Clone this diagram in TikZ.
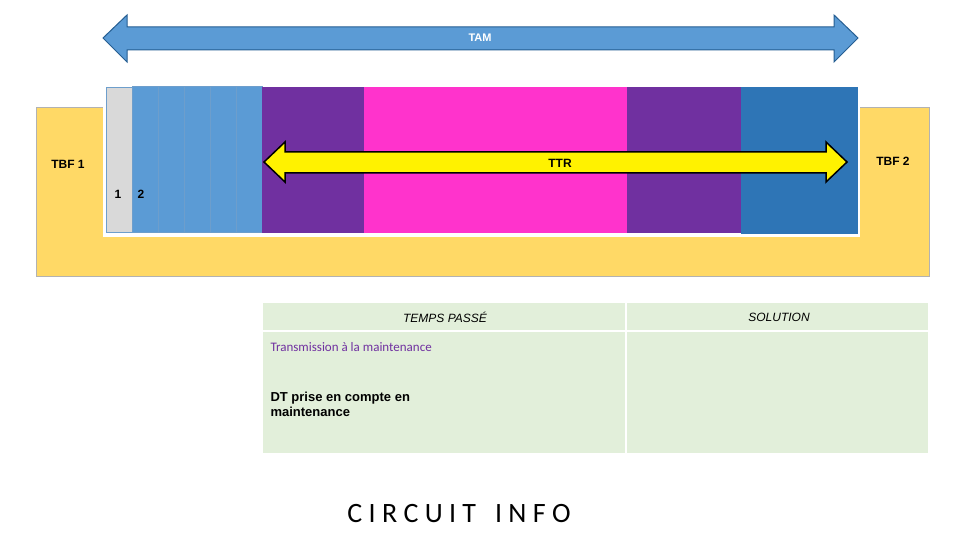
\documentclass[tikz,border=0pt]{standalone}
\usepackage{fontspec}
\setmainfont{Liberation Sans}
\newfontfamily\carlitofont{Carlito}
\begin{document}
\begin{tikzpicture}[x=1pt,y=-1pt,
  cell/.style={draw=white,line width=1.5pt},
  bold/.style={font=\bfseries\fontsize{12}{14}\selectfont}]
\definecolor{ybg}{HTML}{FFD966}
\definecolor{blu}{HTML}{5B9BD5}
\definecolor{dblu}{HTML}{2E75B6}
\definecolor{pur}{HTML}{7030A0}
\definecolor{pnk}{HTML}{FF33CC}
\definecolor{tgreen}{HTML}{E2EFDA}
\useasboundingbox (0,0) rectangle (960,540);
\fill[ybg,draw=gray!60,line width=1pt] (36,108) rectangle (929,276);
\fill[white] (103,86) rectangle (860,237);
\fill[gray!30,draw=dblu!70] (106,87) rectangle (132,232);
\foreach \a/\b in {132/158,158/184,184/210,210/236,236/262}
  \fill[blu,draw=dblu!70,line width=1pt] (\a,87) rectangle (\b,232);
\fill[pur] (262,87) rectangle (364,233);
\fill[pnk] (364,87) rectangle (627,233);
\fill[pur] (627,87) rectangle (741,233);
\fill[dblu] (741,87) rectangle (858,234);
% TAM arrow
\fill[blu,draw=dblu!80!black,line width=1pt] (103,38) -- (127,15) -- (127,27) -- (834,27) -- (834,15) -- (858,38) -- (834,62) -- (834,50) -- (127,50) -- (127,62) -- cycle;
\node[font=\bfseries\fontsize{11}{13}\selectfont,white] (tam) at (480,38) {TAM};
% TTR arrow
\fill[yellow,draw=black,line width=1.5pt] (264,162) -- (285,142) -- (285,152) -- (826,152) -- (826,142) -- (847,162) -- (826,182) -- (826,173) -- (285,173) -- (285,182) -- cycle;
\node[bold] (ttr) at (560,163) {TTR};
\node[bold] (tbf1) at (68,164) {TBF 1};
\node[bold] (tbf2) at (893,161) {TBF 2};
\node[bold] (n1) at (118,194) {1};
\node[bold] (n2) at (141,194) {2};
% table
\fill[tgreen] (263,303) rectangle (928,453);
\draw[white,line width=2pt] (263,331) -- (928,331) (626,303) -- (626,453);
\node[font=\itshape\fontsize{12}{14}\selectfont] (tp) at (445,317) {TEMPS PASSÉ};
\node[font=\itshape\fontsize{12}{14}\selectfont] (sol) at (779,317) {SOLUTION};
\node[font=\carlitofont\fontsize{13}{15}\selectfont,text=pur,anchor=west] (tr) at (267,347) {Transmission à la maintenance};
\node[font=\bfseries\fontsize{13}{15}\selectfont,anchor=west,align=left] (dt) at (267,404) {DT prise en compte en\\maintenance};
\node[font=\carlitofont\fontsize{28}{32}\selectfont] (ci) at (459,514) {C I R C U I T\ \ \ I N F O};
\end{tikzpicture}
\end{document}
